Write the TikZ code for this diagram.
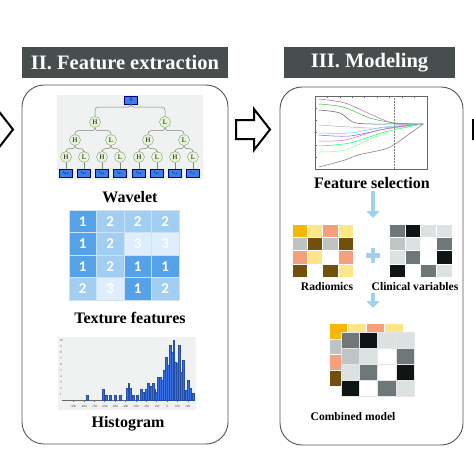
\documentclass[tikz,border=0pt]{standalone}
\usepackage{fontspec}
\setmainfont{Liberation Serif}
\newfontfamily\numfont{Carlito}
\usetikzlibrary{arrows.meta}
\definecolor{hdrgray}{RGB}{72,78,78}
\definecolor{panelgray}{RGB}{85,85,85}
\definecolor{bggray}{RGB}{240,241,241}
\definecolor{wgreen}{RGB}{232,246,218}
\definecolor{wgreenline}{RGB}{130,160,120}
\definecolor{leafblue}{RGB}{60,125,232}
\definecolor{tc1}{RGB}{85,162,232}
\definecolor{tc2}{RGB}{162,206,242}
\definecolor{tc3}{RGB}{222,238,252}
\definecolor{tline}{RGB}{205,226,245}
\definecolor{barblue}{RGB}{55,112,228}
\definecolor{arrowblue}{RGB}{160,210,240}
\definecolor{rorg}{RGB}{247,183,10}
\definecolor{ryel}{RGB}{253,229,138}
\definecolor{rsal}{RGB}{245,160,122}
\definecolor{rgry}{RGB}{190,196,196}
\definecolor{rbrn}{RGB}{112,80,10}
\definecolor{cdk}{RGB}{110,120,120}
\definecolor{cbk}{RGB}{15,20,20}
\definecolor{clt}{RGB}{220,225,225}
\definecolor{cmg}{RGB}{190,197,197}
\begin{document}
\begin{tikzpicture}[x=1pt,y=-1pt,
  hdr/.style={fill=hdrgray,text=white,font=\bfseries\fontsize{20.5}{20.5}\selectfont,minimum height=31pt,inner sep=0},
  panel/.style={draw=panelgray,line width=0.9pt,rounded corners=22pt},
  lbl/.style={font=\bfseries\fontsize{16}{16}\selectfont,inner sep=0},
  slbl/.style={font=\bfseries\fontsize{11.6}{11.6}\selectfont,inner sep=0},
  wnode/.style={circle,draw=wgreenline,fill=wgreen,line width=0.4pt,inner sep=0,minimum size=11pt,font=\fontsize{7}{7}\selectfont},
  leaf/.style={fill=leafblue,draw=blue!50!black,line width=0.3pt,minimum width=13pt,minimum height=8pt,inner sep=0,font=\fontsize{3}{3}\selectfont},
  tedge/.style={draw=gray,line width=0.5pt,rounded corners=3pt},
  tcell/.style={draw=tline,line width=0.6pt,minimum width=27.5pt,minimum height=22.5pt,inner sep=0,text=white,font=\numfont\bfseries\fontsize{15}{15}\selectfont},
  gcell/.style={draw=white,line width=0.3pt,inner sep=0,outer sep=0},
  hbar/.style={fill=barblue,draw=barblue!70!black,line width=0.2pt},
  tiny/.style={font=\fontsize{3.2}{3.2}\selectfont,inner sep=0,text=black!70},
  blk/.style={draw=black,line width=2pt,line join=miter},
  barrow/.style={draw=arrowblue,line width=4pt,-{Triangle[length=7pt,width=13pt]}}]
\useasboundingbox (0,0) rectangle (474,474);
\fill[white] (0,0) rectangle (474,474);

% block arrows
\begin{scope}
\clip (0,0) rectangle (474,474);
\draw[blk] (236,120) -- (254,120) -- (254,109) -- (270,129.5) -- (254,150) -- (254,139) -- (236,139) -- cycle;
\draw[blk] (-21,120) -- (-3,120) -- (-3,109) -- (13,129.5) -- (-3,150) -- (-3,139) -- (-21,139) -- cycle;
\draw[blk] (473,120) -- (491,120) -- (491,109) -- (507,129.5) -- (491,150) -- (491,139) -- (473,139) -- cycle;
\end{scope}

% headers and panels
\node[hdr,minimum width=206pt] (h2) at (125,62.5) {II. Feature extraction};
\node[hdr,minimum width=171pt] (h3) at (369.5,62.5) {III. Modeling};
\node[panel,minimum width=206pt,minimum height=359pt] (p2) at (125,264.5) {};
\node[panel,minimum width=183pt,minimum height=358pt] (p3) at (371.5,266) {};

% wavelet tree
\fill[bggray] (57,95) rectangle (203,180);
\node[leaf,minimum width=13pt,minimum height=8pt,font=\fontsize{6}{6}\selectfont] (root) at (131,100) {I};
\node[wnode] (n1) at (95,122) {H};
\node[wnode] (n2) at (165,122) {L};
\node[wnode] (n11) at (75,140) {H};
\node[wnode] (n12) at (111,140) {L};
\node[wnode] (n21) at (148,140) {H};
\node[wnode] (n22) at (184,140) {L};
\foreach \n/\x/\t in {n111/66/H,n112/84/L,n121/102/H,n122/120/L,n211/139/H,n212/157/L,n221/175/H,n222/193/L}
  \node[wnode] (\n) at (\x,157) {\t};
\foreach \p/\c in {root/n1,root/n2,n1/n11,n1/n12,n2/n21,n2/n22,n11/n111,n11/n112,n12/n121,n12/n122,n21/n211,n21/n212,n22/n221,n22/n222}
  \draw[tedge] (\p.south) -- ++(0,3) -| (\c.north);
\foreach \n/\x/\s in {n111/66/HHH,n112/84/HHL,n121/102/HLH,n122/120/HLL,n211/139/LHH,n212/157/LHL,n221/175/LLH,n222/193/LLL}{
  \node[leaf] (lf\s) at (\x,173) {I\textsubscript{\s}};
  \draw[tedge] (\n.south) -- (lf\s.north);
}
\node[lbl] (wav) at (130,197) {Wavelet};

% texture grid
\foreach \r/\c/\v in {0/0/1,0/1/2,0/2/2,0/3/2,1/0/1,1/1/2,1/2/3,1/3/3,2/0/1,2/1/2,2/2/1,2/3/1,3/0/2,3/1/3,3/2/1,3/3/2}
  \node[tcell,fill=tc\v] (t\r\c) at ({82.75+27.5*\c},{221.25+22.5*\r}) {\v};
\node[lbl] (tex) at (130,318) {Texture features};

% histogram
\fill[bggray] (58,337) rectangle (196,410);
\draw[black!60,line width=0.4pt] (62,400) -- (195,400);
\foreach \v [count=\i from 0] in {-900,-800,-700,-600,-500,-400,-300,-200,-100,0,100,200}{
  \draw[black!60,line width=0.3pt] ({73.4+10.4*\i},400) -- ({73.4+10.4*\i},401.5);
  \node[tiny] (xl\i) at ({73.4+10.4*\i},406) {\v};
}
\foreach \k in {1,...,10}
  \node[tiny] (yl\k) at (61,{400-6*\k}) {\k};
\foreach \x/\h in {87/5,103/11,106/5,110/5,115/5,120/5,127/12,128.5/17,130/12,133/5,137/5,141/11,143/8,146/11,148/17,151/14,153/17,154.5/11,156/8,158/23,160/23,162/20,164/30,166/43,168/35,170/55,172/48,173.5/60,175/38,177/37,179/55,181/28,183/40,186/10,188/20,190/12,193/7}
  \fill[hbar] ({\x-0.9},400) rectangle ({\x+0.9},{400-\h});
\node[lbl] (hist) at (128,424) {Histogram};

% lasso plot
\draw[black!60,line width=0.4pt] (315,96) rectangle (427,169);
\foreach \k in {1,...,8} \draw[black!60,line width=0.3pt] ({315+12.4*\k},96) -- ({315+12.4*\k},98);
\foreach \k in {1,...,5} \draw[black!60,line width=0.3pt] (315,{96+12.2*\k}) -- (317,{96+12.2*\k});
\draw[black!50,line width=0.5pt,densely dotted] (394,96) -- (394,169);
\begin{scope}[line width=0.5pt]
\draw[violet!60] plot[smooth] coordinates {(319,99) (345,103) (370,114) (393,123) (423,124)};
\draw[green!50!gray] plot[smooth] coordinates {(319,104) (343,107) (370,118) (395,123) (423,124)};
\draw[black!65] plot[smooth] coordinates {(319,110) (340,113) (356,123) (395,124) (423,124)};
\draw[gray!60] plot[smooth] coordinates {(319,125) (350,127) (380,128) (423,124)};
\draw[cyan!60] plot[smooth] coordinates {(319,133) (350,133) (385,127) (423,124)};
\draw[blue!60] plot[smooth] coordinates {(319,135) (350,136) (390,128) (423,124)};
\draw[magenta!60] plot[smooth] coordinates {(319,141) (345,140) (380,130) (423,124)};
\draw[green!60!cyan] plot[smooth] coordinates {(319,146) (350,143) (385,132) (423,124)};
\draw[green!45] plot[smooth] coordinates {(319,152) (345,150) (375,137) (400,128) (423,124)};
\draw[black!55] plot[smooth] coordinates {(319,167) (345,160) (358,155) (385,149) (398,142) (423,124)};
\end{scope}
\node[lbl] (fs) at (372,183) {Feature selection};

% arrows and plus
\coordinate (a1s) at (373,191);
\coordinate (a1e) at (373,218);
\draw[barrow] (a1s) -- (a1e);
\coordinate (a2s) at (373,293);
\coordinate (a2e) at (373,308);
\draw[barrow] (a2s) -- (a2e);
\fill[arrowblue] (366,253) rectangle (380,257.5);
\fill[arrowblue] (370.8,248) rectangle (375.2,262.5);

% radiomics grid
\foreach \col [count=\i from 0] in {rorg,ryel,rsal,ryel,rgry,rbrn,rgry,rbrn,rsal,ryel,white,rsal,rbrn,white,rbrn,ryel}{
  \pgfmathtruncatemacro\r{int(\i/4)}
  \pgfmathtruncatemacro\c{mod(\i,4)}
  \node[gcell,fill=\col,minimum width=15.25pt,minimum height=13.25pt] (rad\i) at ({299.6+15.25*\c},{230.6+13.25*\r}) {};
}
% clinical grid
\foreach \col [count=\i from 0] in {cdk,cbk,clt,clt,cmg,clt,white,cdk,clt,cdk,white,cbk,cbk,white,cdk,clt}{
  \pgfmathtruncatemacro\r{int(\i/4)}
  \pgfmathtruncatemacro\c{mod(\i,4)}
  \node[gcell,fill=\col,minimum width=15.75pt,minimum height=13.25pt] (cli\i) at ({396.9+15.75*\c},{230.6+13.25*\r}) {};
}
\node[slbl] (radl) at (327,287) {Radiomics};
\node[slbl] (clil) at (415,287) {Clinical variables};

% combined model
\foreach \col [count=\i from 0] in {rorg,ryel,rsal,ryel,rgry,rbrn,rgry,rbrn,rsal,ryel,white,rsal,rbrn,white,rbrn,ryel}{
  \pgfmathtruncatemacro\r{int(\i/4)}
  \pgfmathtruncatemacro\c{mod(\i,4)}
  \node[gcell,fill=\col,minimum width=18.5pt,minimum height=15.75pt] (cbr\i) at ({338.25+18.5*\c},{330.9+15.75*\r}) {};
}
\foreach \col [count=\i from 0] in {cdk,cbk,clt,clt,cmg,clt,white,cdk,clt,cdk,white,cbk,cbk,white,cdk,clt}{
  \pgfmathtruncatemacro\r{int(\i/4)}
  \pgfmathtruncatemacro\c{mod(\i,4)}
  \node[gcell,draw=black!10,fill=\col,minimum width=18.25pt,minimum height=16pt] (cbc\i) at ({350.1+18.25*\c},{340+16*\r}) {};
}
\node[slbl] (cml) at (353,417) {Combined model};
\end{tikzpicture}
\end{document}
